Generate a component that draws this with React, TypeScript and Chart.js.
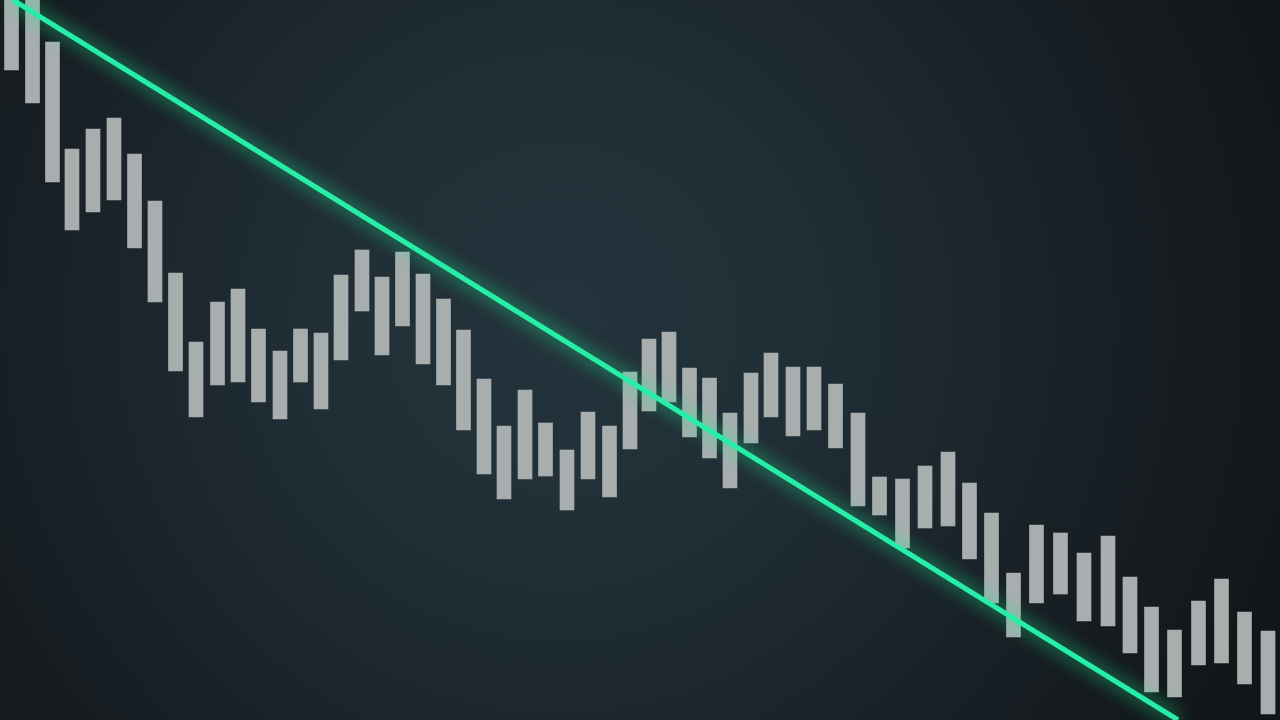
import React, { useEffect, useRef } from "react";
import { Chart, registerables } from "chart.js";

Chart.register(...registerables);

// Bar centres along the time axis (the spacing widens slightly to the right)
const barTimes = [
  11.5, 32.5, 52.5, 72, 93, 114, 134.5, 155, 175.5, 196,
  217.5, 238, 258.5, 280, 300.5, 321, 341, 362, 382, 402.5,
  423, 443.5, 463.5, 484, 504, 525, 545.5, 567, 588, 609.5,
  630, 649, 669, 689.5, 709.5, 730, 751, 771, 793, 814,
  835.5, 858, 879.5, 902.5, 925, 948, 969.5, 991.5, 1013.5, 1036.5,
  1060.5, 1084, 1108, 1130, 1151.5, 1174.5, 1198.5, 1221.5, 1244.5, 1268,
];

// Upper end of each bar
const barHighs = [
  724, 722, 678, 571, 591, 602, 566, 519, 447, 378,
  418, 431, 391, 369, 391, 387, 445, 470, 443, 468,
  446, 421, 390, 341, 294, 330, 297, 270, 308, 294,
  348, 381, 388, 352, 342, 307, 347, 367, 353, 353,
  336, 307, 243, 241, 254, 268, 237, 207, 147, 195,
  187, 167, 184, 143, 113, 90, 119, 141, 108, 89,
];

// Lower end of each bar
const barLows = [
  650, 617, 538, 490, 508, 520, 472, 418, 349, 303,
  335, 338, 318, 301, 338, 311, 360, 409, 365, 394,
  356, 335, 290, 246, 221, 241, 244, 210, 241, 223,
  271, 309, 318, 283, 262, 232, 277, 303, 284, 290,
  272, 214, 205, 172, 192, 194, 161, 117, 83, 117,
  126, 99, 94, 67, 28, 23, 55, 57, 36, 6,
];

// Trend line end points
const trendTimes = [13, 1178];
const trendValues = [720, 0];

const bgPlugin = {
  id: "bgGradient",
  beforeDraw(chart: any) {
    const { ctx, width, height } = chart;
    ctx.save();
    const g = ctx.createRadialGradient(560, 320, 0, 560, 320, 760);
    g.addColorStop(0, "#24343c");
    g.addColorStop(0.35, "#202d35");
    g.addColorStop(0.7, "#182026");
    g.addColorStop(1, "#121618");
    ctx.fillStyle = g;
    ctx.fillRect(0, 0, width, height);
    ctx.restore();
  },
};

const glowPlugin = {
  id: "lineGlow",
  beforeDatasetDraw(chart: any, args: any) {
    const ds = chart.data.datasets[args.index];
    if (ds.type === "line") {
      chart.ctx.save();
      chart.ctx.shadowColor = "rgba(30, 235, 150, 1)";
      chart.ctx.shadowBlur = 18;
    }
  },
  afterDatasetDraw(chart: any, args: any) {
    const ds = chart.data.datasets[args.index];
    if (ds.type === "line") {
      chart.ctx.restore();
    }
  },
};

export default function App() {
  const ref = useRef<HTMLCanvasElement | null>(null);

  useEffect(() => {
    if (!ref.current) return;
    const barData = barTimes.map((t, i) => ({ x: t, y: [barLows[i], barHighs[i]] }));
    const trendData = trendTimes.map((t, i) => ({ x: t, y: trendValues[i] }));
    const chart = new Chart(ref.current, {
      type: "bar",
      data: {
        datasets: [
          {
            type: "line",
            data: trendData as any,
            borderColor: "#27eea6",
            borderWidth: 5,
            pointRadius: 0,
            fill: false,
            order: 0,
          } as any,
          {
            type: "bar",
            data: barData as any,
            backgroundColor: "#a8aeae",
            borderWidth: 0,
            barThickness: 14,
            order: 1,
          } as any,
        ],
      },
      options: {
        animation: false,
        responsive: true,
        maintainAspectRatio: false,
        layout: { padding: 0 },
        plugins: {
          legend: { display: false },
          tooltip: { enabled: false },
        },
        scales: {
          x: { type: "linear", min: 0, max: 1280, offset: false, display: false },
          y: { type: "linear", min: 0, max: 720, display: false },
        },
      },
      plugins: [bgPlugin, glowPlugin],
    });
    return () => chart.destroy();
  }, []);

  return (
    <div style={{ position: "fixed", left: 0, top: 0, width: "100vw", height: "100vh", background: "#161b1e" }}>
      <canvas ref={ref} />
    </div>
  );
}
